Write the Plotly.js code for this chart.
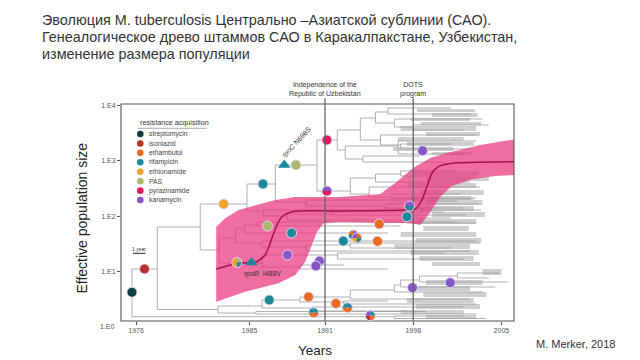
<!DOCTYPE html>
<html><head><meta charset="utf-8">
<script src="https://cdn.plot.ly/plotly-3.0.1.min.js"></script>
<style>html,body{margin:0;padding:0;background:#fff;}#chart{width:640px;height:360px;}</style>
</head><body><div id="chart"></div>
<script>
// ---------- data ----------
const titleLines = [
  'Эволюция M. tuberculosis Центрально –Азиатской сублинии (САО).',
  'Генеалогическое древо штаммов САО в Каракалпакстане, Узбекистан,',
  'изменение размера популяции'
];
const drugNames  = ['streptomycin','isoniazid','ethambutol','rifampicin','ethionamide','PAS','pyrazinamide','kanamycin'];
const drugCodes  = ['S','I','E','R','T','P','Z','K'];
const drugColors = ['#0f3b42','#b8302b','#ea6a1f','#1a8a9b','#efa22c','#a8b96b','#e11a5d','#8656c6'];

const xTickYears  = [1976, 1985, 1991, 1998, 2005];
const yTickValues = [10, 100, 1000, 10000];
const yTickLabels = ['1.E1', '1.E2', '1.E3', '1.E4'];

// effective population size (Bayesian skyline): upper / lower bound and median
const upperYears = [1982.36,1983.08,1984.13,1985.99,1987.05,1988.64,1992.2,1995.38,1996.7,1998.0,1999.35,2000.67,2003.32,2006.0];
const upperSize  = [65,92,130,172,197,223,223,253,423,746,1133,1396,1945,2449];
const lowerYears = [1982.36,1984.66,1987.3,1988.64,1989.43,1989.96,1990.36,1990.89,1992.2,1995.38,1997.76,1998.55,1999.2,2000.14,2001.07,2002.66,2004.51,2006.0];
const lowerSize  = [2.86,4.34,6.14,8.69,15.1,30.3,52.6,74.7,78.9,75.7,75.7,69.7,106,226,353,467,536,559];
const medianYears = [1982.34,1984.13,1985.59,1986.25,1986.78,1987.18,1987.58,1988.37,1992.2,1997.36,1998.16,1998.69,1999.09,1999.48,2000.0,2001.07,2006.0];
const medianSize  = [11.1,14.1,15.1,20,40,69.7,98.4,121,125,130,135.5,197,343,600,789,908,971];

// genealogy: each node = [node year, [row, end year], [row, end year] ...]
const treeNodes = [
  [1975.67,[4.3,1996.5],[52,1977.68]],
  [1977.68,[11.5,1982.5],[94,1981.09]],
  [1981.09,[71,1982.6],[117,1984.8]],
  [1984.8,[110,1986.1],[137,1987.05]],
  [1987.05,[119,1989.5],[156,1990.36]],
  [1990.36,[130,1993.0],[181,1991.97]],
  [1991.97,[171,1992.6],[191,1993.8]],
  [1993.8,[181,1995.4],[203,1995.0]],
  [1995.0,[198,1996.5],[209,1996.0]],
  [1996.0,[207,2002.6],[213,2001.0]],
  [1996.5,[194,1998.0],[202,2003.5]],
  [1998.0,[191,2002.0],[196,2004.0]],
  [1995.4,[176,1997.0],[186,2003.0]],
  [1997.0,[172,2002.5],[177,2001.0]],
  [1992.6,[162,1994.0],[175,1996.8]],
  [1994.0,[159,2000.5],[165,1998.5]],
  [1996.8,[167,2002.0],[180,2003.0]],
  [1993.0,[127,1994.5],[143,1995.0]],
  [1995.0,[139,2002.5],[147,1997.0]],
  [1997.0,[145,2003.0],[150,2001.5]],
  [1994.5,[124,1996.3],[134,2003.3]],
  [1996.3,[122,2002.8],[127,2001.8]],
  [1989.5,[115,1995.8],[121,1996.5]],
  [1995.8,[113,2002.0],[117,2003.2]],
  [1996.5,[120,2001.5],[123,2003.0]],
  [1986.1,[105,1988.0],[111,2003.4]],
  [1988.0,[101,1997.5],[107,1991.5]],
  [1991.5,[106,2002.2],[109,2000.5]],
  [1997.5,[98,2003.0],[103,2001.0]],
  [1982.6,[58,1986.0],[83,1983.9]],
  [1983.9,[78,1986.0],[93,1984.6]],
  [1984.6,[88,1996.0],[96,1985.6]],
  [1985.6,[95,1997.0],[99,2001.5]],
  [1986.0,[74,1989.5],[80,2003.0]],
  [1989.5,[70,2002.5],[76,1993.0]],
  [1993.0,[73,2001.0],[78,2003.3]],
  [1986.0,[54,1989.0],[66,1992.0]],
  [1989.0,[52,1996.0],[56,1992.5]],
  [1992.0,[62,2002.0],[68,2000.5]],
  [1982.5,[8,1985.5],[15,1986.0]],
  [1986.0,[13,1990.0],[21,1989.0]],
  [1989.0,[19,1992.5],[24,1993.0]],
  [1993.0,[22,2002.5],[31,1996.5]],
  [1996.5,[29,2003.5],[36,1997.0]],
  [1997.0,[34,2004.5],[41,1998.5]],
  [1998.5,[39,2005.5],[45,2001.5]],
  [2001.5,[43,2004.0],[48,2004.8]],
  [1992.5,[17,2003.0],[20,1996.0]],
  [1990.0,[10,1997.5],[14,2002.0]],
  [1985.5,[7,2003.0],[9.5,1999.0]],
  [1996.5,[2.5,2003.8],[5,2002.0]]
];
// dense bundles of recent tips: [start year, end year, row from, row to]
const tipBlocks = [
  [1998.3,2002.9,209,212],[1999.5,2003.1,204,208],[1997.8,2002.5,200,203],[1998.6,2003.4,196,199],
  [1997.0,2003.0,190,195],[1999.0,2003.3,185,189],[1996.8,2002.0,180,184],[1997.5,2002.8,175,179],
  [1996.4,2001.2,170,174],[1999.5,2002.6,166,169],
  [1998.0,2003.2,146,150],[1999.0,2004.0,140,144],[1997.5,2003.0,133,138],[1998.5,2003.6,126,131],[1997.8,2002.6,121,125],
  [1999.0,2003.5,116,121],[1998.5,2002.8,110,115],[1999.5,2003.7,104,109],[1998.0,2003.0,97,102],[1998.8,2002.4,90,95],
  [1997.0,2003.0,84,89],[1998.2,2003.4,78,83],[1996.5,2002.5,72,77],[1997.8,2003.2,66,71],[1998.5,2002.8,60,65],[1999.5,2003.3,55,59],
  [2003.5,2005.0,46,52],[1999.0,2003.5,36,41],[1998.0,2002.5,30,35],[1998.8,2003.8,24,29],[1997.5,2002.8,18,23],
  [1998.2,2003.3,12,17],[1997.0,2002.0,7,11],[1999.0,2003.0,2,6]
];
// resistance acquisition events (single drug)
const circleYear = [1975.67,1976.67,1982.95,1986.07,1988.69,1991.15,1998.74,1986.43,1988.34,1988.02,1990.56,1990.27,1992.45,1995.3,1995.17,1997.5,1997.94,2000.94,1986.57,1989.69,1991.86];
const circleRow  = [28.7,52,117,137,156,181,170.3,95,88,66,60,55,80,97,79.7,104.3,33.3,38.3,21,24,17.5];
const circleDrug = ['S','I','T','R','P','Z','K','P','R','K','K','K','R','E','E','R','K','K','R','E','E'];
// mixed events: quarter colours [top-right, top-left, bottom-left, bottom-right]
const pieYear = [1991.15,1984.0,1993.24,1993.52,1997.7,1992.78,1990.09,1994.59];
const pieRow  = [130,58.5,86,83,115,13.3,8.3,5.3];
const pieQuarters = [['K','K','Z','Z'],['P','T','T','R'],['K','E','R','T'],['E','K','T','R'],['K','K','R','R'],['R','R','E','E'],['R','R','E','E'],['R','K','I','E']];
// rpo mutations
const triangleYear = [1987.76, 1985.16];
const triangleRow  = [156, 58.5];
const mutationLabels = ['<i>rpoC</i> N698S', '<i>rpoB</i>  I488V'];
const eventYears  = [1991, 1998];
const eventLabels = ['Independence of the<br>Republic of Uzbekistan', 'DOTS<br>program'];

// ---------- build ----------
const colorOf = c => drugColors[drugCodes.indexOf(c)];
const tx = [], ty = [];
treeNodes.forEach(n => {
  const x = n[0], kids = n.slice(1), us = kids.map(k => k[0]);
  tx.push(x, x, null); ty.push(Math.min(...us), Math.max(...us), null);
  kids.forEach(k => { tx.push(x, k[1], null); ty.push(k[0], k[0], null); });
});
const bx = [], by = [];
tipBlocks.forEach(b => { bx.push(b[0], b[1], b[1], b[0], b[0], null); by.push(b[2], b[2], b[3], b[3], b[2], null); });

const traces = [
  {x: bx, y: by, yaxis: 'y', type: 'scatter', mode: 'lines', fill: 'toself', fillcolor: '#cfcfcf', line: {width: 0}, hoverinfo: 'skip'},
  {x: tx, y: ty, yaxis: 'y', type: 'scatter', mode: 'lines', line: {color: '#9c9c9c', width: 0.8}, hoverinfo: 'skip'},
  {x: upperYears.concat(lowerYears.slice().reverse()), y: upperSize.concat(lowerSize.slice().reverse()),
   yaxis: 'y2', type: 'scatter', mode: 'lines', fill: 'toself', fillcolor: 'rgba(234,52,126,0.72)', line: {width: 0}},
  {x: medianYears, y: medianSize, yaxis: 'y2', type: 'scatter', mode: 'lines', line: {color: '#a3124e', width: 1.5, shape: 'spline', smoothing: 0.6}},
  {x: circleYear, y: circleRow, yaxis: 'y3', type: 'scatter', mode: 'markers',
   marker: {size: 10, color: circleDrug.map(colorOf), line: {color: 'rgba(222,215,245,0.95)', width: 1}}},
  {x: triangleYear, y: triangleRow, yaxis: 'y3', type: 'scatter', mode: 'markers',
   marker: {size: 11, symbol: 'triangle-up', color: colorOf('R'), line: {width: 0}}}
];

const R = 5, K = 2.76;
const quarterPaths = [
  `M0,0 L${R},0 C${R},${K} ${K},${R} 0,${R} Z`,
  `M0,0 L0,${R} C${-K},${R} ${-R},${K} ${-R},0 Z`,
  `M0,0 L${-R},0 C${-R},${-K} ${-K},${-R} 0,${-R} Z`,
  `M0,0 L0,${-R} C${K},${-R} ${R},${-K} ${R},0 Z`
];
const shapes = [];
shapes.push({type: 'rect', xref: 'paper', yref: 'paper', x0: 0, x1: 1, y0: 0, y1: 1, line: {color: '#555', width: 1.1}});
eventYears.forEach(yr => shapes.push({type: 'line', xref: 'x', yref: 'paper', x0: yr, x1: yr, y0: 0, y1: 1.027, line: {color: '#666', width: 1.3}}));
pieYear.forEach((yr, i) => {
  pieQuarters[i].forEach((c, q) => shapes.push({type: 'path', xref: 'x', yref: 'y3', xsizemode: 'pixel', ysizemode: 'pixel',
    xanchor: yr, yanchor: pieRow[i], path: quarterPaths[q], fillcolor: colorOf(c), line: {width: 0}}));
  shapes.push({type: 'circle', xref: 'x', yref: 'y3', xsizemode: 'pixel', ysizemode: 'pixel', xanchor: yr, yanchor: pieRow[i],
    x0: -R, x1: R, y0: -R, y1: R, line: {color: 'rgba(222,215,245,0.95)', width: 1}});
});
shapes.push({type: 'line', xref: 'x', yref: 'y3', x0: 1975.75, x1: 1976.75, y0: 67.7, y1: 67.7, line: {color: '#222', width: 1}});
const legX = 0.0491, legTextX = 0.0654, legY0 = 0.8618, legStep = 0.0435;
shapes.push({type: 'line', xref: 'paper', yref: 'paper', x0: 0.0425, x1: 0.218, y0: 0.888, y1: 0.888, line: {color: '#999', width: 0.8}});
drugNames.forEach((d, i) => shapes.push({type: 'circle', xref: 'paper', yref: 'paper', xsizemode: 'pixel', ysizemode: 'pixel',
  xanchor: legX, yanchor: legY0 - i * legStep, x0: -3.3, x1: 3.3, y0: -3.3, y1: 3.3, fillcolor: drugColors[i], line: {width: 0}}));

const F = 'Liberation Sans, Arial, sans-serif';
const ann = [];
const titleY = [1.387, 1.309, 1.2327];
titleLines.forEach((t, i) => ann.push({xref: 'paper', yref: 'paper', x: -0.2061, y: titleY[i], xanchor: 'left', yanchor: 'middle',
  text: t, showarrow: false, font: {family: F, size: 14.4, color: '#333'}}));
ann.push({xref: 'paper', yref: 'paper', x: 1.262, y: -0.106, xanchor: 'right', yanchor: 'middle', text: 'M. Merker, 2018', showarrow: false, font: {family: F, size: 11, color: '#333'}});
ann.push({xref: 'paper', yref: 'paper', x: -0.0992, y: 0.472, xanchor: 'center', yanchor: 'middle', textangle: -90, text: 'Effective population size', showarrow: false, font: {family: F, size: 14, color: '#222'}});
ann.push({xref: 'paper', yref: 'paper', x: 0.4949, y: -0.1369, xanchor: 'center', yanchor: 'middle', text: 'Years', showarrow: false, font: {family: F, size: 13.5, color: '#222'}});
ann.push({xref: 'paper', yref: 'paper', x: -0.0102, y: -0.0276, xanchor: 'right', yanchor: 'middle', text: '1.E0', showarrow: false, font: {family: F, size: 7, color: '#555'}});
eventYears.forEach((yr, i) => ann.push({xref: 'x', yref: 'paper', x: yr, y: 1.0665, xanchor: 'center', yanchor: 'middle', text: eventLabels[i], showarrow: false, font: {family: F, size: 7, color: '#333'}}));
ann.push({xref: 'x', yref: 'y3', x: 1988.77, y: 179.3, textangle: -47, text: mutationLabels[0], showarrow: false, font: {family: F, size: 7, color: '#333'}});
ann.push({xref: 'x', yref: 'y3', x: 1986.0, y: 47, text: mutationLabels[1], showarrow: false, font: {family: F, size: 7, color: '#333'}});
ann.push({xref: 'x', yref: 'y3', x: 1976.25, y: 72.3, text: '1 year', showarrow: false, font: {family: F, size: 5, color: '#333'}});
ann.push({xref: 'paper', yref: 'paper', x: 0.0425, y: 0.9138, xanchor: 'left', yanchor: 'middle', text: 'resistance acquisition', showarrow: false, font: {family: F, size: 7.2, color: '#333'}});
drugNames.forEach((d, i) => ann.push({xref: 'paper', yref: 'paper', x: legTextX, y: legY0 - i * legStep, xanchor: 'left', yanchor: 'middle', text: d, showarrow: false, font: {family: F, size: 6.8, color: '#444'}}));

const layout = {
  width: 640, height: 360, autosize: false,
  margin: {l: 121, r: 126, t: 104, b: 39, pad: 0},
  paper_bgcolor: '#ffffff', plot_bgcolor: '#ffffff', showlegend: false,
  xaxis: {range: [1974.8, 2006.0], tickvals: xTickYears, ticks: 'outside', ticklen: 3, tickcolor: '#555',
          tickfont: {family: F, size: 7, color: '#555'}, showgrid: false, zeroline: false, showline: false},
  yaxis: {range: [0, 217], visible: false, showgrid: false, zeroline: false},
  yaxis2: {overlaying: 'y', side: 'left', type: 'log', range: [0.107, 4.03], tickvals: yTickValues, ticktext: yTickLabels,
           ticks: 'outside', ticklen: 3, tickcolor: '#555', tickfont: {family: F, size: 7, color: '#555'},
           showgrid: false, zeroline: false, showline: false},
  yaxis3: {overlaying: 'y', range: [0, 217], visible: false, showgrid: false, zeroline: false},
  shapes: shapes, annotations: ann
};
Plotly.newPlot('chart', traces, layout, {staticPlot: true, displayModeBar: false});
</script></body></html>
